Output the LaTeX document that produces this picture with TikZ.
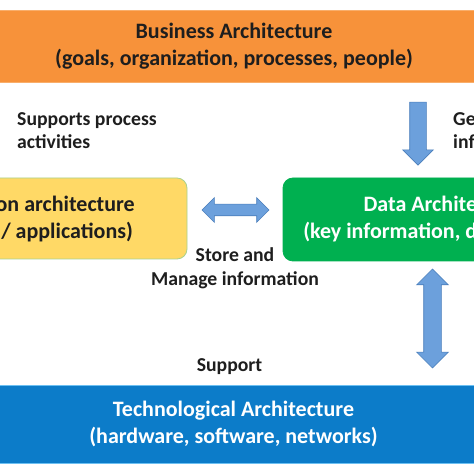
\documentclass[tikz,border=0pt]{standalone}
\usepackage{fontspec}
\setmainfont{Carlito}
\usetikzlibrary{shapes.arrows}
\definecolor{bizorange}{HTML}{F7923A}
\definecolor{bizedge}{HTML}{F9AE6B}
\definecolor{appyellow}{HTML}{FFD966}
\definecolor{appedge}{HTML}{A9D18E}
\definecolor{datagreen}{HTML}{00B050}
\definecolor{techblue}{HTML}{0C7CC9}
\definecolor{techedge}{HTML}{6CC0F2}
\definecolor{arrowfill}{HTML}{6CA0DC}
\definecolor{arrowedge}{HTML}{4A7EBB}
\definecolor{darktext}{HTML}{1E1E1E}
\newcommand{\bandfont}{\fontsize{22}{27}\selectfont\bfseries}
\newcommand{\notefont}{\fontsize{19.7}{23.5}\selectfont\bfseries}

\begin{document}
\begin{tikzpicture}[x=1pt,y=1pt]
        \tikzset{layer/.style = {rectangle, align=center, font=\bandfont, inner sep=0pt},
                 block/.style = {layer, rounded corners=10pt, line width=0.8pt},
                 note/.style = {font=\notefont, text=darktext, inner sep=0pt},
                 fatarrow/.style = {fill=arrowfill, draw=arrowedge, line width=0.6pt}}
        \useasboundingbox (0,0) rectangle (474,474);
        \clip (0,0) rectangle (474,474);
        \fill[white] (0,0) rectangle (474,474);

        % layers
        \node[layer, fill=bizorange, draw=bizedge, text=darktext, minimum width=500, minimum height=72] (business) at (234,428) {Business Architecture\\(goals, organization, processes, people)};
        \node[layer, fill=techblue, draw=techedge, text=white, minimum width=500, minimum height=78] (tech) at (233.5,50) {Technological Architecture\\(hardware, software, networks)};
        \node[block, fill=appyellow, draw=appedge, text=darktext, minimum width=324, minimum height=81] (app) at (25,255.5) {Application architecture\\(systems / applications)};
        \node[block, fill=datagreen, draw=datagreen, text=white, minimum width=322, minimum height=83] (data) at (444,254.5) {Data Architecture\\(key information, data models)};

        % labels
        \node[note, align=left, anchor=west] (supports) at (17,343.5) {Supports process\\activities};
        \node[note, align=left, anchor=west] (generates) at (453,343.5) {Generates\\information};
        \node[note, align=center] (store) at (235,205.5) {Store and\\Manage information};
        \node[note] (support) at (229.5,107) {Support};

        % arrows
        \node[fatarrow, single arrow, shape border rotate=270, inner sep=8pt, minimum height=63, single arrow head extend=7] (bizdata) at (418,344.5) {};
        \node[fatarrow, double arrow, inner sep=5.5pt, minimum height=67, double arrow head extend=6.5] (appdata) at (235.5,264) {};
        \node[fatarrow, double arrow, shape border rotate=90, inner sep=8.5pt, minimum height=99, double arrow head extend=7] (datatech) at (432.5,155.5) {};

    \end{tikzpicture}
\end{document}
